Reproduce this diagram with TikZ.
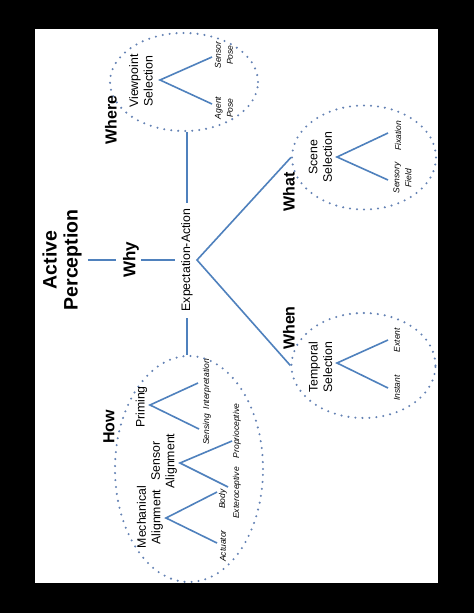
\documentclass[tikz,border=0pt]{standalone}
\usepackage{fontspec}
\setmainfont{Liberation Sans}
\usetikzlibrary{shapes.geometric}
\definecolor{ln}{RGB}{79,129,189}
\definecolor{dt}{RGB}{100,130,180}
\begin{document}
\begin{tikzpicture}[x=1pt,y=-1pt,
  conn/.style={draw=ln, line width=1.6pt},
  dotell/.style={ellipse, draw=dt, line width=2.3pt, line cap=round, dash pattern=on 0pt off 7pt, inner sep=0pt},
  big/.style={rotate=90, font=\fontsize{19.5}{21}\selectfont\bfseries, align=center, inner sep=0pt},
  head/.style={rotate=90, font=\fontsize{16}{17}\selectfont\bfseries, inner sep=0pt},
  lab/.style={rotate=90, font=\fontsize{12.3}{14.5}\selectfont, align=center, inner sep=0pt},
  sm/.style={rotate=90, font=\fontsize{8.5}{12}\selectfont\itshape, align=center, inner sep=0pt}]
\fill[black] (0,0) rectangle (474,613);
\fill[white] (35,29) rectangle (438,583);
\useasboundingbox (0,0) rectangle (474,613);

% ellipses
\node[dotell, minimum width=148, minimum height=98] (where) at (184,82) {};
\node[dotell, minimum width=144, minimum height=104] (what) at (364,157.5) {};
\node[dotell, minimum width=144, minimum height=105] (when) at (363.5,365.5) {};
\node[dotell, minimum width=148, minimum height=226] (how) at (189,469) {};

% main column
\node[big] (ap) at (62,260) {Active\\Perception};
\node[head, font=\fontsize{17}{18}\selectfont\bfseries] (why) at (131,260) {Why};
\node[lab] (exp) at (187,260) {Expectation-Action};
\coordinate (va) at (197,260);

\draw[conn, shorten <=6, shorten >=7] (ap) -- (why);
\draw[conn, shorten <=2, shorten >=6] (why) -- (exp);
\draw[conn, shorten <=6] (exp.east) -- (exp.east |- where.south);
\draw[conn, shorten <=7] (exp.west) -- (exp.west |- how.north);
\draw[conn] (what.west) -- (va) -- (when.west);

% headings
\node[head] (whereh) at (111,120) {Where};
\node[head] (whath) at (289,192) {What};
\node[head] (whenh) at (289,328) {When};
\node[head] (howh) at (109,427) {How};

% Where
\node[lab] (vp) at (141,81) {Viewpoint\\Selection};
\coordinate (vpa) at (160,80);
\coordinate (vpu) at (212,57);
\coordinate (vpl) at (212,104);
\draw[conn] (vpu) -- (vpa) -- (vpl);
\node[sm] (spose) at (224,55) {Sensor\\Pose};
\node[sm] (apose) at (224,108) {Agent\\Pose};

% What
\node[lab] (ss) at (320.5,157) {Scene\\Selection};
\coordinate (ssa) at (337,157);
\coordinate (ssu) at (388,133);
\coordinate (ssl) at (388,180);
\draw[conn] (ssu) -- (ssa) -- (ssl);
\node[sm] (fix) at (398,136) {Fixation};
\node[sm] (sf) at (402.5,178) {Sensory\\Field};

% When
\node[lab] (ts) at (320.5,367) {Temporal\\Selection};
\coordinate (tsa) at (337,363);
\coordinate (tsu) at (388,340);
\coordinate (tsl) at (388,388);
\draw[conn] (tsu) -- (tsa) -- (tsl);
\node[sm] (ext) at (397,340) {Extent};
\node[sm] (inst) at (397,388) {Instant};

% How
\node[lab] (prim) at (141.5,407) {Priming};
\coordinate (pa) at (150,405);
\coordinate (pu) at (198,383);
\coordinate (pl) at (199,429);
\draw[conn] (pu) -- (pa) -- (pl);
\node[sm] (si) at (207,402) {Sensing\ \ Interpretation};

\node[lab] (sa) at (164,461) {Sensor\\Alignment};
\coordinate (saa) at (180,463);
\coordinate (sau) at (232,441);
\coordinate (sal) at (228,487);
\draw[conn] (sau) -- (saa) -- (sal);
\node[sm] (prop) at (237,431) {Proprioceptive};
\node[sm] (exte) at (237,493) {Exteroceptive};

\node[lab] (ma) at (150,517) {Mechanical\\Alignment};
\coordinate (maa) at (166,518);
\coordinate (mau) at (217,492);
\coordinate (mal) at (217,543);
\draw[conn] (mau) -- (maa) -- (mal);
\node[sm] (body) at (223,499) {Body};
\node[sm] (act) at (223,546) {Actuator};
\end{tikzpicture}
\end{document}
